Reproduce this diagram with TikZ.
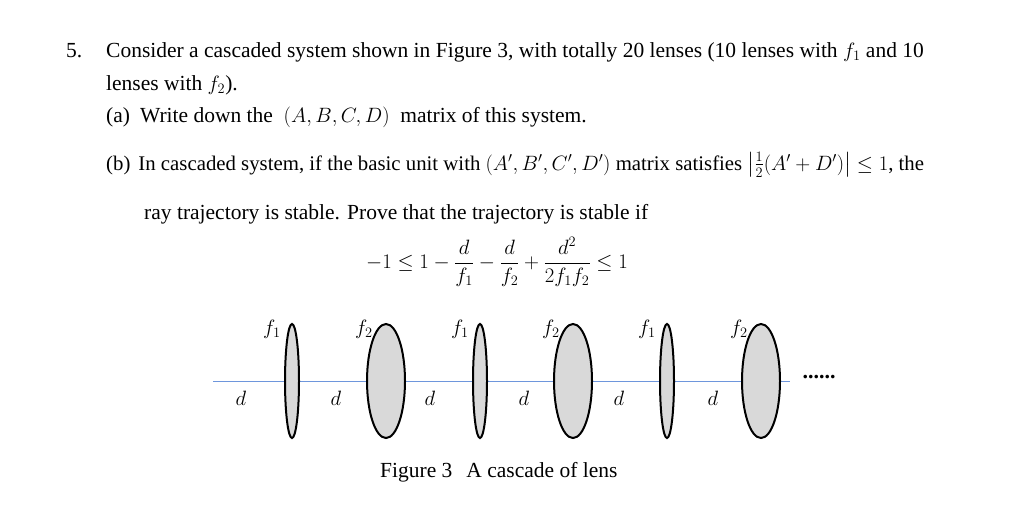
\documentclass[tikz,border=0pt]{standalone}
\usepackage{amsmath}
\usepackage{fontspec}
\setmainfont{Liberation Serif}
\usetikzlibrary{shapes.geometric}
\begin{document}
\begin{tikzpicture}[x=1pt,y=-1pt,
  txt/.style={anchor=base west,inner sep=0pt,font=\fontsize{21.5}{25}\selectfont},
  lensA/.style={draw=black,line width=2pt,fill=gray!30,ellipse,minimum width=14pt,minimum height=114pt,inner sep=0pt},
  lensB/.style={draw=black,line width=2pt,fill=gray!30,ellipse,minimum width=38pt,minimum height=114pt,inner sep=0pt},
  lbl/.style={inner sep=0pt,font=\fontsize{22}{25}\selectfont}]
\useasboundingbox (0,0) rectangle (1014,507);
\node[txt] (n5) at (66,57) {5.};
\node[txt] (l1) at (106,57) {Consider a cascaded system shown in Figure 3, with totally 20 lenses (10 lenses with $f_1$ and 10};
\node[txt] (l2) at (106,90) {lenses with $f_2$).};
\node[txt] (la) at (106,122) {(a)\hspace{10pt}Write down the \ $(A,B,C,D)$ \ matrix of this system.};
\node[txt,font=\fontsize{20.8}{25}\selectfont] (lb) at (106,170) {(b)\hspace{8pt}In cascaded system, if the basic unit with $(A',B',C',D')$ matrix satisfies $\bigl|\frac{1}{2}(A'+D')\bigr|\le 1$, the};
\node[txt] (lc) at (144,219) {ray trajectory is stable. Prove that the trajectory is stable if};
\node[inner sep=0pt,font=\fontsize{20}{24}\selectfont] (eq) at (497,262) {$-1\le 1-\dfrac{d}{f_1}-\dfrac{d}{f_2}+\dfrac{d^2}{2f_1f_2}\le 1$};
\coordinate (s) at (213,381);
\coordinate (e) at (790,381);
\draw[color={rgb,255:red,110;green,150;blue,220},line width=1pt] (s) -- (e);
\foreach \i/\x in {1/292,3/480,5/667}{
  \node[lensA] (L\i) at (\x,381) {};
  \node[lbl] (F\i) at (\x-20,329) {$f_1$};}
\foreach \i/\x in {2/386,4/573,6/761}{
  \node[lensB] (L\i) at (\x,381) {};
  \node[lbl] (F\i) at (\x-22,329) {$f_2$};}
\foreach \i/\x in {1/241,2/336,3/430,4/524,5/619,6/713}
  \node[lbl] (D\i) at (\x,398) {$d$};
\node[inner sep=0pt,font=\bfseries\fontsize{22}{25}\selectfont] (dots) at (819,377) {......};
\node[txt] (cap) at (380,477) {Figure 3\hspace{14pt}A cascade of lens};
\end{tikzpicture}
\end{document}
